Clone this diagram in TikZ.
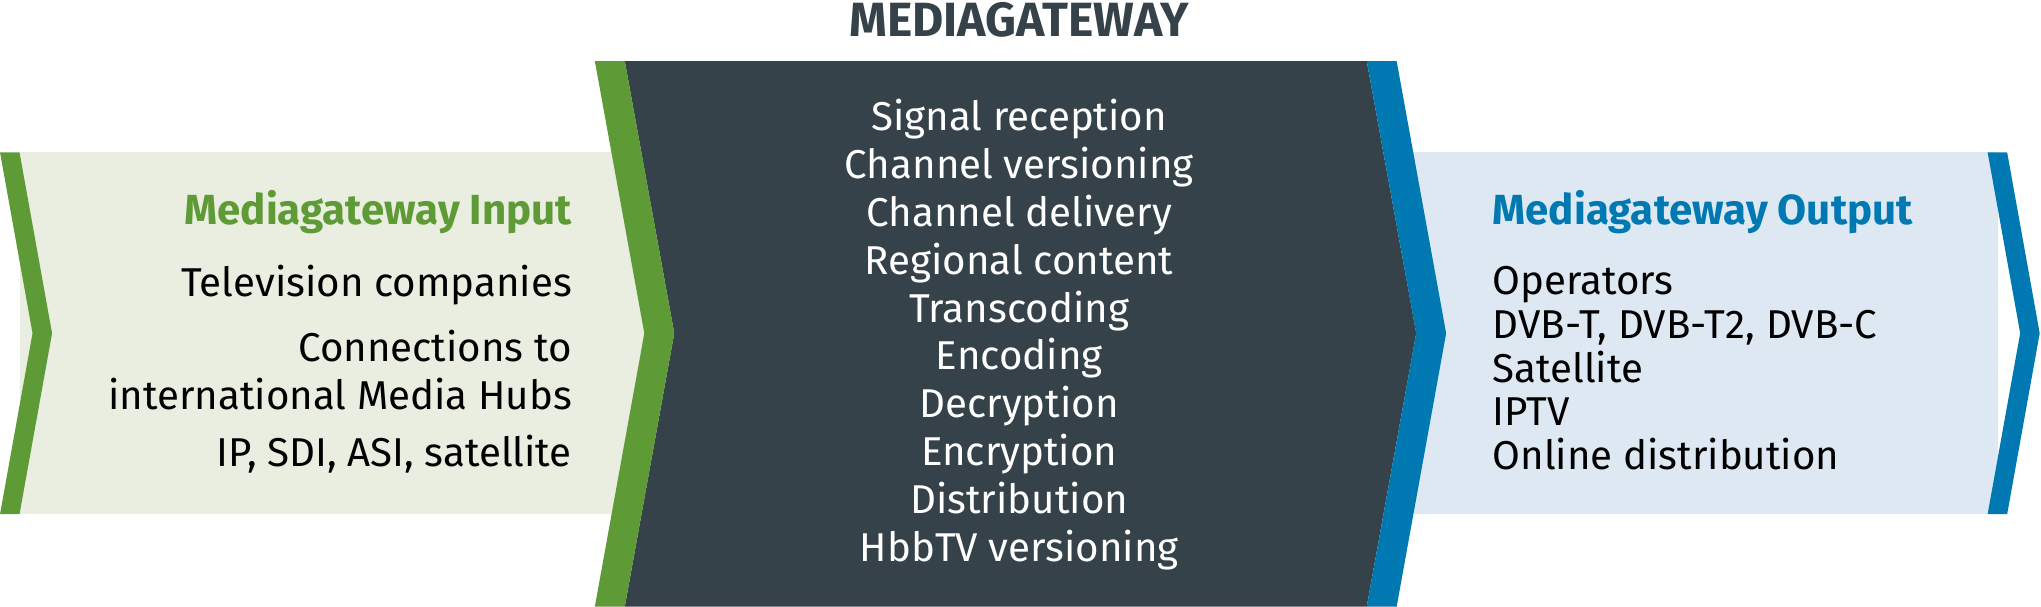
\documentclass[tikz,border=0pt]{standalone}
\usepackage{fontspec}
\setmainfont{Fira Sans}
\definecolor{gr}{HTML}{5E9A35}
\definecolor{lgr}{HTML}{E9EEE0}
\definecolor{dk}{HTML}{354249}
\definecolor{bl}{HTML}{0079B2}
\definecolor{lbl}{HTML}{DDE8F3}
\begin{document}
\begin{tikzpicture}[x=0.1mm,y=-0.1mm,
  txt/.style={font=\fontsize{8.8pt}{10.5pt}\selectfont, inner sep=0pt},
  hd/.style={font=\fontsize{9.2pt}{11pt}\selectfont\bfseries, inner sep=0pt}]
\useasboundingbox (0,0) rectangle (1568,466);
% left
\fill[lgr] (15,117) rectangle (500,395);
\fill[gr] (0,117) -- (15,117) -- (40,256) -- (15,395) -- (0,395) -- (25,256) -- cycle;
% right
\fill[lbl] (1080,117) rectangle (1535,395);
\fill[bl] (1527,117) -- (1542,117) -- (1567,256) -- (1542,395) -- (1527,395) -- (1552,256) -- cycle;
% center
\fill[dk] (480,47) -- (1050,47) -- (1088,256) -- (1050,466) -- (480,466) -- (518,256) -- cycle;
\fill[gr] (457,47) -- (480,47) -- (518,256) -- (480,466) -- (457,466) -- (495,256) -- cycle;
\fill[bl] (1050,47) -- (1073,47) -- (1111,256) -- (1073,466) -- (1050,466) -- (1088,256) -- cycle;
% texts
\node[hd, text=dk, font=\fontsize{10.5pt}{12pt}\selectfont\bfseries] (title) at (783,15) {MEDIAGATEWAY};
\node[hd, text=gr, anchor=east] (inh) at (440,163) {Mediagateway Input};
\node[txt, anchor=east] (in1) at (440,219) {Television companies};
\node[txt, anchor=east, align=right] (in2) at (440,284) {Connections to\\international Media Hubs};
\node[txt, anchor=east] (in3) at (440,349) {IP, SDI, ASI, satellite};
\node[hd, text=bl, anchor=west] (outh) at (1146,163) {Mediagateway Output};
\node[txt, anchor=north west, align=left, font=\fontsize{8.8pt}{9.55pt}\selectfont] (out) at (1146,204) {Operators\\DVB-T, DVB-T2, DVB-C\\Satellite\\IPTV\\Online distribution};
\node[txt, text=white, align=center, font=\fontsize{8.8pt}{10.45pt}\selectfont] (mid) at (783,257) {Signal reception\\Channel versioning\\Channel delivery\\Regional content\\Transcoding\\Encoding\\Decryption\\Encryption\\Distribution\\HbbTV versioning};
\end{tikzpicture}
\end{document}
